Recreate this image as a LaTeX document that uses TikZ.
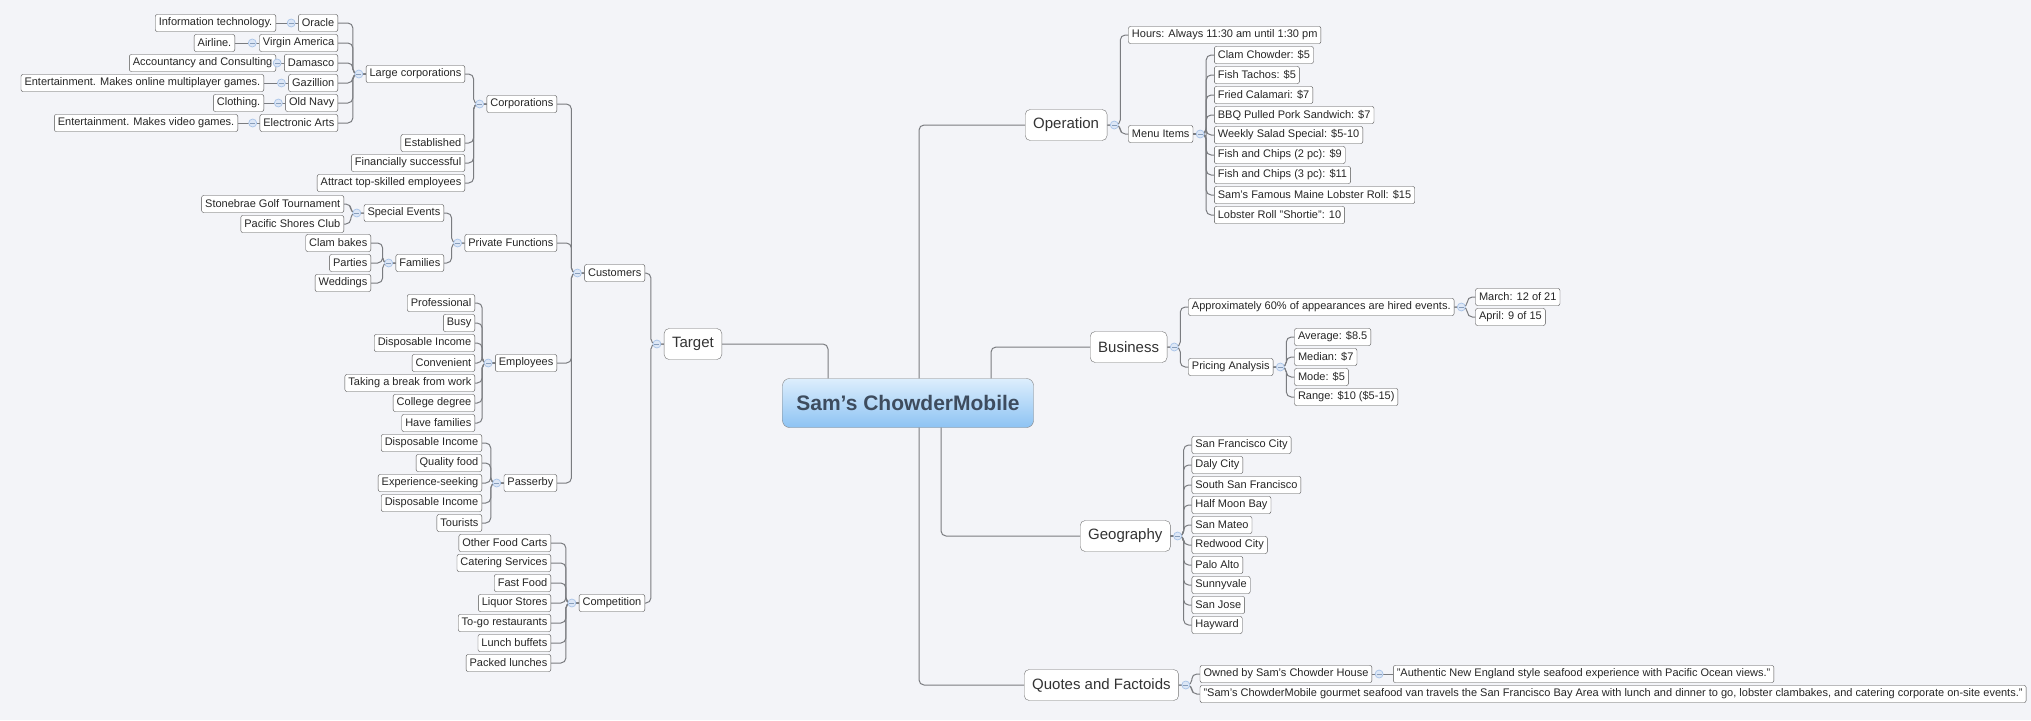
\documentclass[tikz,border=0pt]{standalone}
\usepackage{fontspec}
\setmainfont{Liberation Sans}
\usetikzlibrary{calc}
\definecolor{bg}{HTML}{F3F4F8}
\definecolor{ln}{HTML}{7A7C80}
\definecolor{mkc}{HTML}{A9C4E8}
\definecolor{ctop}{HTML}{DDEEFD}
\definecolor{cbot}{HTML}{8DC3F3}
\definecolor{ctext}{HTML}{3E4C5E}
\tikzset{
 leaf/.style={draw=black!70, fill=white, rounded corners=2pt, inner xsep=3.5pt, inner ysep=1pt, minimum height=17pt, font=\fontsize{11}{13}\selectfont, text=black!85},
 topic/.style={draw=black!55, fill=white, rounded corners=5pt, inner xsep=8pt, minimum height=31pt, font=\fontsize{15}{18}\selectfont, text=black!80},
 conn/.style={draw=ln, line width=1pt, rounded corners=5pt},
 mk/.style={draw=mkc, fill=mkc!40, line width=0.7pt},
 rc/.style={leaf,anchor=west,xshift=21pt},
}
\newcommand\mkL[1]{\draw[mk] ([xshift=-7pt]#1.west) circle (4pt); \draw[mkc!80!black, line width=0.6pt] ([xshift=-9.5pt]#1.west) -- ([xshift=-4.5pt]#1.west);}
\newcommand\mkR[1]{\draw[mk] ([xshift=7pt]#1.east) circle (4pt); \draw[mkc!80!black, line width=0.6pt] ([xshift=4.5pt]#1.east) -- ([xshift=9.5pt]#1.east);}
\newcommand\cL[2]{\draw[conn] (#2.east) -| ([xshift=-13pt]#1.west) -- (#1.west);}
\newcommand\cR[2]{\draw[conn] (#2.west) -| ([xshift=13pt]#1.east) -- (#1.east);}
\begin{document}
\begin{tikzpicture}[x=1pt,y=-1pt]
\fill[bg] (0,0) rectangle (2031,720);
\useasboundingbox (0,0) rectangle (2031,720);
% central
\node[draw=black!50, rounded corners=7pt, top color=ctop, bottom color=cbot, minimum width=251pt, minimum height=49pt, font=\fontsize{21}{24}\selectfont\bfseries, text=ctext] (C) at (908,403) {Sam's ChowderMobile};
% ---------- left side
\node[topic,anchor=east] (Target) at (722,344) {Target};
\node[leaf,anchor=east] (Customers) at (645,273) {Customers};
\node[leaf,anchor=east] (Competition) at (645,603) {Competition};
\node[leaf,anchor=east] (Corporations) at (557,104) {Corporations};
\node[leaf,anchor=east] (PrivF) at (557,243) {Private Functions};
\node[leaf,anchor=east] (Employees) at (557,363) {Employees};
\node[leaf,anchor=east] (Passerby) at (557,483) {Passerby};
\node[leaf,anchor=east] (LargeC) at (465,74) {Large corporations};
\node[leaf,anchor=east] (Estab) at (465,143) {Established};
\node[leaf,anchor=east] (FinS) at (465,163) {Financially successful};
\node[leaf,anchor=east] (Attr) at (465,183) {Attract top-skilled employees};
\node[leaf,anchor=east] (Oracle) at (338,23) {Oracle};
\node[leaf,anchor=east] (Virgin) at (338,43) {Virgin America};
\node[leaf,anchor=east] (Damasco) at (338,63) {Damasco};
\node[leaf,anchor=east] (Gaz) at (338,83) {Gazillion};
\node[leaf,anchor=east] (OldNavy) at (338,103) {Old Navy};
\node[leaf,anchor=east] (EA) at (338,123) {Electronic Arts};
\node[leaf,anchor=east] (dOracle) at (276,23) {Information technology.};
\node[leaf,anchor=east] (dVirgin) at (235,43) {Airline.};
\node[leaf,anchor=east] (dDamasco) at (276,63) {Accountancy and Consulting};
\node[leaf,anchor=east] (dGaz) at (264,83) {Entertainment. Makes online multiplayer games.};
\node[leaf,anchor=east] (dOldNavy) at (264,103) {Clothing.};
\node[leaf,anchor=east] (dEA) at (238,123) {Entertainment. Makes video games.};
\node[leaf,anchor=east] (SpecE) at (444,213) {Special Events};
\node[leaf,anchor=east] (Fam) at (444,263) {Families};
\node[leaf,anchor=east] (Stone) at (344,204) {Stonebrae Golf Tournament};
\node[leaf,anchor=east] (Pacific) at (344,224) {Pacific Shores Club};
\node[leaf,anchor=east] (Clam) at (371,243) {Clam bakes};
\node[leaf,anchor=east] (Parties) at (371,263) {Parties};
\node[leaf,anchor=east] (Wed) at (371,283) {Weddings};
\node[leaf,anchor=east] (e1) at (475,303) {Professional};
\node[leaf,anchor=east] (e2) at (475,323) {Busy};
\node[leaf,anchor=east] (e3) at (475,343) {Disposable Income};
\node[leaf,anchor=east] (e4) at (475,363) {Convenient};
\node[leaf,anchor=east] (e5) at (475,383) {Taking a break from work};
\node[leaf,anchor=east] (e6) at (475,403) {College degree};
\node[leaf,anchor=east] (e7) at (475,423) {Have families};
\node[leaf,anchor=east] (p1) at (482,443) {Disposable Income};
\node[leaf,anchor=east] (p2) at (482,463) {Quality food};
\node[leaf,anchor=east] (p3) at (482,483) {Experience-seeking};
\node[leaf,anchor=east] (p4) at (482,503) {Disposable Income};
\node[leaf,anchor=east] (p5) at (482,523) {Tourists};
\node[leaf,anchor=east] (c1) at (551,543) {Other Food Carts};
\node[leaf,anchor=east] (c2) at (551,563) {Catering Services};
\node[leaf,anchor=east] (c3) at (551,583) {Fast Food};
\node[leaf,anchor=east] (c4) at (551,603) {Liquor Stores};
\node[leaf,anchor=east] (c5) at (551,623) {To-go restaurants};
\node[leaf,anchor=east] (c6) at (551,643) {Lunch buffets};
\node[leaf,anchor=east] (c7) at (551,663) {Packed lunches};
% left connectors
\draw[conn] (Target.east) -| ([xshift=-80pt]C.north);
\cL{Target}{Customers}\cL{Target}{Competition}
\cL{Customers}{Corporations}\cL{Customers}{PrivF}\cL{Customers}{Employees}\cL{Customers}{Passerby}
\cL{Corporations}{LargeC}\cL{Corporations}{Estab}\cL{Corporations}{FinS}\cL{Corporations}{Attr}
\foreach \n in {Oracle,Virgin,Damasco,Gaz,OldNavy,EA}{\cL{LargeC}{\n}\draw[conn] (d\n.east) -- (\n.west);}
\cL{PrivF}{SpecE}\cL{PrivF}{Fam}
\cL{SpecE}{Stone}\cL{SpecE}{Pacific}
\cL{Fam}{Clam}\cL{Fam}{Parties}\cL{Fam}{Wed}
\foreach \n in {e1,e2,e3,e4,e5,e6,e7}{\cL{Employees}{\n}}
\foreach \n in {p1,p2,p3,p4,p5}{\cL{Passerby}{\n}}
\foreach \n in {c1,c2,c3,c4,c5,c6,c7}{\cL{Competition}{\n}}
\foreach \n in {Target,Customers,Competition,Corporations,PrivF,Employees,Passerby,LargeC,SpecE,Fam,Oracle,Virgin,Damasco,Gaz,OldNavy,EA}{\mkL{\n}}
% ---------- right side
\node[topic,anchor=west] (Oper) at (1025,125) {Operation};
\node[topic,anchor=west] (Bus) at (1090,347) {Business};
\node[topic,anchor=west] (Geo) at (1080,536) {Geography};
\node[topic,anchor=west] (Quo) at (1024,685) {Quotes and Factoids};
\node[rc] (Hours) at (Oper.east |- 0,35) {Hours: Always 11:30 am until 1:30 pm};
\node[rc] (Menu) at (Oper.east |- 0,134) {Menu Items};
\node[rc] (m1) at (Menu.east |- 0,55) {Clam Chowder: \$5};
\node[rc] (m2) at (Menu.east |- 0,75) {Fish Tachos: \$5};
\node[rc] (m3) at (Menu.east |- 0,95) {Fried Calamari: \$7};
\node[rc] (m4) at (Menu.east |- 0,115) {BBQ Pulled Pork Sandwich: \$7};
\node[rc] (m5) at (Menu.east |- 0,135) {Weekly Salad Special: \$5-10};
\node[rc] (m6) at (Menu.east |- 0,155) {Fish and Chips (2 pc): \$9};
\node[rc] (m7) at (Menu.east |- 0,175) {Fish and Chips (3 pc): \$11};
\node[rc] (m8) at (Menu.east |- 0,195) {Sam's Famous Maine Lobster Roll: \$15};
\node[rc] (m9) at (Menu.east |- 0,215) {Lobster Roll "Shortie": 10};
\node[rc] (Appr) at (Bus.east |- 0,307) {Approximately 60\% of appearances are hired events.};
\node[rc] (Price) at (Bus.east |- 0,367) {Pricing Analysis};
\node[rc] (a1) at (Appr.east |- 0,297) {March: 12 of 21};
\node[rc] (a2) at (Appr.east |- 0,317) {April: 9 of 15};
\node[rc] (r1) at (Price.east |- 0,337) {Average: \$8.5};
\node[rc] (r2) at (Price.east |- 0,357) {Median: \$7};
\node[rc] (r3) at (Price.east |- 0,377) {Mode: \$5};
\node[rc] (r4) at (Price.east |- 0,397) {Range: \$10 (\$5-15)};
\node[rc] (g1) at (Geo.east |- 0,445) {San Francisco City};
\node[rc] (g2) at (Geo.east |- 0,465) {Daly City};
\node[rc] (g3) at (Geo.east |- 0,485) {South San Francisco};
\node[rc] (g4) at (Geo.east |- 0,505) {Half Moon Bay};
\node[rc] (g5) at (Geo.east |- 0,525) {San Mateo};
\node[rc] (g6) at (Geo.east |- 0,545) {Redwood City};
\node[rc] (g7) at (Geo.east |- 0,565) {Palo Alto};
\node[rc] (g8) at (Geo.east |- 0,585) {Sunnyvale};
\node[rc] (g9) at (Geo.east |- 0,605) {San Jose};
\node[rc] (g10) at (Geo.east |- 0,625) {Hayward};
\node[rc] (Owned) at (Quo.east |- 0,674) {Owned by Sam's Chowder House};
\node[rc] (Auth) at (Owned.east |- 0,674) {"Authentic New England style seafood experience with Pacific Ocean views."};
\node[rc] (Gour) at (Quo.east |- 0,694) {"Sam's ChowderMobile gourmet seafood van travels the San Francisco Bay Area with lunch and dinner to go, lobster clambakes, and catering corporate on-site events."};
% right connectors
\draw[conn] (Oper.west) -| ([xshift=11pt]C.north);
\draw[conn] (Bus.west) -| ([xshift=83pt]C.north);
\draw[conn] (Geo.west) -| ([xshift=33pt]C.south);
\draw[conn] (Quo.west) -| ([xshift=11pt]C.south);
\cR{Oper}{Hours}\cR{Oper}{Menu}
\foreach \n in {m1,m2,m3,m4,m5,m6,m7,m8,m9}{\cR{Menu}{\n}}
\cR{Bus}{Appr}\cR{Bus}{Price}
\cR{Appr}{a1}\cR{Appr}{a2}
\foreach \n in {r1,r2,r3,r4}{\cR{Price}{\n}}
\foreach \n in {g1,g2,g3,g4,g5,g6,g7,g8,g9,g10}{\cR{Geo}{\n}}
\cR{Quo}{Owned}\cR{Quo}{Gour}
\draw[conn] (Owned.east) -- (Auth.west);
\foreach \n in {Oper,Menu,Bus,Appr,Price,Geo,Quo,Owned}{\mkR{\n}}
\end{tikzpicture}
\end{document}
